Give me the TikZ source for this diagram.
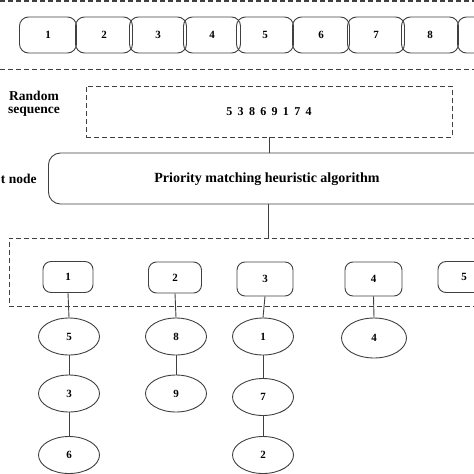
\documentclass[tikz,border=0pt]{standalone}
\usepackage{fontspec}
\setmainfont{Liberation Serif}
\usetikzlibrary{shapes.geometric}
\begin{document}
\begin{tikzpicture}[x=1pt,y=-1pt,
  line width=0.9pt, draw=black!75,
  every node/.style={font=\fontsize{11}{12}\selectfont\bfseries},
  cell/.style={draw=black!75,rounded corners=9pt,minimum width=57pt,minimum height=36pt,inner sep=0pt},
  grp/.style={draw=black!75,rounded corners=8pt,minimum height=31pt,inner sep=0pt},
  elt/.style={draw=black!75,ellipse,minimum width=61pt,minimum height=37pt,inner sep=0pt},
  dline/.style={draw=black!75,dash pattern=on 5pt off 3pt},
  lbl/.style={align=center,font=\fontsize{13.5}{12.5}\selectfont\bfseries}]
\useasboundingbox (0,0) rectangle (474,474);
\begin{scope}
\clip (0,0) rectangle (474,474);
% top dashed line
\draw[dline,line width=1.6pt] (0,1) -- (474,1);
% top cells
\foreach \i/\x in {1/48,2/104,3/158,4/212,5/265,6/321,7/376,8/430,9/486}{
  \node[cell] (c\i) at (\x,35) {\ifnum\i<9 \i\fi};
}
\draw[dline] (0,69) -- (474,69);
% random sequence
\node[draw=black!75,dash pattern=on 5pt off 3pt,minimum width=366pt,minimum height=51pt,inner sep=0pt] (rs) at (269,111.5)
  {\fontsize{12}{13}\selectfont 5\hspace{5.3pt}3\hspace{5.3pt}8\hspace{5.3pt}6\hspace{5.3pt}9\hspace{5.3pt}1\hspace{5.3pt}7\hspace{5.3pt}4};
\node[lbl] (rl) at (34,104) {Random\\sequence};
% algorithm
\node[draw=black!75,rounded corners=12pt,minimum width=450pt,minimum height=51pt,inner sep=0pt,anchor=west] (alg) at (48,178.5) {};
\node[font=\fontsize{14}{16}\selectfont\bfseries] (algt) at (267,179) {Priority matching heuristic algorithm};
\node[lbl,anchor=west,inner sep=0pt] (tn) at (0.5,179) {t node};
\draw (rs.south) -- (rs.south |- alg.north);
% group dashed box
\node[draw=black!75,dash pattern=on 5pt off 3pt,minimum width=480pt,minimum height=68pt,inner sep=0pt,anchor=north west] (gb) at (9,238) {};
\draw (268,204) -- (268,238);
% group nodes
\node[grp,minimum width=50pt] (g1) at (68,277) {1};
\node[grp,minimum width=53pt] (g2) at (175,277.5) {2};
\node[grp,minimum width=56pt,minimum height=34pt] (g3) at (265,279) {3};
\node[grp,minimum width=57pt,minimum height=34pt] (g4) at (373.5,279) {4};
\node[grp,minimum width=52pt] (g5) at (464,277) {5};
% ellipses
\node[elt] (e5) at (69,336.5) {5};
\node[elt] (e3) at (69,393.5) {3};
\node[elt] (e6) at (69,455) {6};
\node[elt] (e8) at (176,336.5) {8};
\node[elt] (e9) at (176,393.5) {9};
\node[elt] (e1) at (263,336.5) {1};
\node[elt] (e7) at (263,397) {7};
\node[elt] (e2) at (263,455) {2};
\node[elt,minimum width=65pt,minimum height=40pt] (e4) at (374,338) {4};
\draw (g1.south) -- (e5.north);
\draw (e5) -- (e3);
\draw (e3) -- (e6);
\draw (g2.south) -- (e8.north);
\draw (e8) -- (e9);
\draw (g3.south) -- (e1.north);
\draw (e1) -- (e7);
\draw (e7) -- (e2);
\draw (g4.south) -- (e4.north);
\end{scope}
\end{tikzpicture}
\end{document}
